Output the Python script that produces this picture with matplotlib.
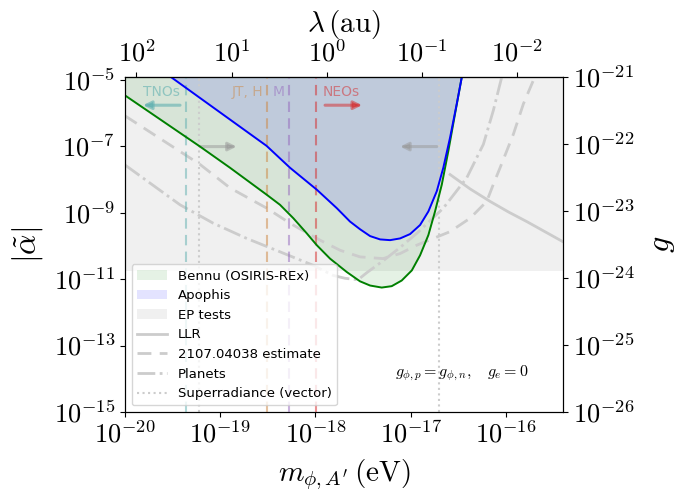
import numpy as np
import matplotlib
matplotlib.use("Agg")
import matplotlib.pyplot as plt
from matplotlib.ticker import NullLocator, FuncFormatter

plt.rcParams['mathtext.fontset'] = 'cm'
plt.rcParams['font.family'] = 'DejaVu Sans'

# curves, stored as log10 values
apophis_logm = [-19.70, -19.563, -18.513, -18.267, -17.986, -17.776, -17.637, -17.532,
                -17.426, -17.321, -17.216, -17.111, -17.006, -16.901, -16.814, -16.726,
                -16.657, -16.586, -16.516, -16.457, -16.43]
apophis_loga = [-4.53, -4.818, -6.985, -7.644, -8.304, -8.860, -9.264, -9.495,
                -9.702, -9.802, -9.824, -9.772, -9.641, -9.368, -8.960, -8.353,
                -7.644, -6.733, -5.720, -4.827, -4.30]

bennu_logm = [-20.0, -19.212, -18.897, -18.512, -18.372, -18.232, -18.091, -17.986,
              -17.847, -17.671, -17.532, -17.426, -17.304, -17.199, -17.094, -16.988,
              -16.901, -16.814, -16.744, -16.673, -16.604, -16.534, -16.463, -16.44]
bennu_loga = [-5.465, -7.006, -7.644, -8.456, -8.760, -9.164, -9.620, -9.976,
              -10.380, -10.784, -11.064, -11.191, -11.252, -11.210, -11.040, -10.736,
              -10.280, -9.672, -8.960, -8.152, -7.137, -6.024, -4.909, -4.45]

estimate_logm = [-20.0, -19.212, -18.897, -18.512, -18.267, -17.952, -17.742, -17.532,
                 -17.290, -17.111, -16.936, -16.586, -16.376, -16.201, -16.134, -16.061,
                 -15.921, -15.816, -15.711, -15.66]
estimate_loga = [-6.08, -7.544, -8.252, -8.860, -9.316, -9.824, -10.128, -10.328,
                 -10.380, -10.228, -9.976, -9.568, -9.164, -8.657, -8.161, -7.644,
                 -6.632, -5.720, -5.009, -4.60]

planets_logm = [-20.0, -19.422, -19.072, -18.722, -18.372, -18.022, -17.812, -17.689,
                -17.553, -17.461, -17.287, -17.111, -16.936, -16.657, -16.411, -16.236,
                -16.132, -16.043, -16.02]
planets_loga = [-7.56, -8.760, -9.316, -9.772, -10.176, -10.584, -10.888, -10.973,
                -11.018, -10.805, -10.441, -10.046, -9.620, -8.860, -7.948, -6.936,
                -5.921, -4.909, -4.54]

llr_logm = [-16.586, -16.376, -16.166, -15.970, -15.781, -15.40]
llr_loga = [-7.848, -8.280, -8.657, -8.980, -9.264, -9.872]

ep_loga = -10.74

# vertical markers (log10 mass)
tno_logm = -19.359
jth_logm = -18.505
mars_logm = -18.277
neo_logm = -17.997
superrad_logm = [-19.223, -16.700]

HBARC_EV_M = 1.97327e-7
AU_M = 1.495979e11

TNO_C = '#5fb0b0'
JTH_C = 'peru'
MARS_C = 'tab:purple'
NEO_C = 'tab:red'


def to_lambda(m):
    m = np.asarray(m, dtype=float)
    with np.errstate(divide='ignore'):
        return HBARC_EV_M / (m * AU_M)


def pow10(v, pos=None):
    if v <= 0:
        return ''
    return r'$10^{%d}$' % int(np.round(np.log10(v)))


fig = plt.figure(figsize=(6.85, 4.98), dpi=100)
ax = fig.add_axes([0.1825, 0.1727, 0.6394, 0.6727])
ax.set_xscale('log')
ax.set_yscale('log')
xmin, xmax = 1e-20, 10 ** -15.4
ymin, ymax = 1e-15, 10 ** -4.91
ax.set_xlim(xmin, xmax)
ax.set_ylim(ymin, ymax)

grey = '0.8'

# EP tests
ax.fill_between([xmin, xmax], 10 ** ep_loga, 1.0, color='0.94', lw=0, label='EP tests', zorder=0)

# Bennu
m_b = 10 ** np.array(bennu_logm)
a_b = 10 ** np.array(bennu_loga)
ax.fill_between(m_b, a_b, 1.0, color='green', alpha=0.1, lw=0, label='Bennu (OSIRIS-REx)', zorder=1)
ax.plot(m_b, a_b, color='green', lw=1.4, zorder=5)

# Apophis
m_a = 10 ** np.array(apophis_logm)
a_a = 10 ** np.array(apophis_loga)
ax.fill_between(m_a, a_a, 1.0, color='blue', alpha=0.11, lw=0, label='Apophis', zorder=1)
ax.plot(m_a, a_a, color='blue', lw=1.4, zorder=5)

# other bounds
ax.plot(10 ** np.array(llr_logm), 10 ** np.array(llr_loga), color=grey, lw=2, ls='-', label='LLR', zorder=2)
ax.plot(10 ** np.array(estimate_logm), 10 ** np.array(estimate_loga), color=grey, lw=2,
        ls=(0, (5, 3)), label='2107.04038 estimate', zorder=2)
ax.plot(10 ** np.array(planets_logm), 10 ** np.array(planets_loga), color=grey, lw=2,
        ls='-.', label='Planets', zorder=2)
for i, lm in enumerate(superrad_logm):
    ax.axvline(10 ** lm, color=grey, lw=1.5, ls=':',
               label='Superradiance (vector)' if i == 0 else None, zorder=2)

# solar system markers
for lm, c in [(tno_logm, TNO_C), (jth_logm, JTH_C),
              (mars_logm, MARS_C), (neo_logm, NEO_C)]:
    ax.axvline(10 ** lm, color=c, alpha=0.5, lw=1.5, ls=(0, (5, 3)), zorder=3)

txt_y = 10 ** -5.36
arr_y = 10 ** -5.76
ax.text(10 ** -19.622, txt_y, 'TNOs', color=TNO_C, alpha=0.6, fontsize=10, ha='center', va='center')
ax.text(10 ** -18.55, txt_y, 'JT, H', color=JTH_C, alpha=0.5, fontsize=10, ha='right', va='center')
ax.text(10 ** -18.391, txt_y, 'M', color=MARS_C, alpha=0.5, fontsize=10, ha='center', va='center')
ax.text(10 ** -17.728, txt_y, 'NEOs', color=NEO_C, alpha=0.5, fontsize=10, ha='center', va='center')

arrows = [(-19.422, -19.811, arr_y, TNO_C, 0.6),
          (-17.899, -17.510, arr_y, NEO_C, 0.5),
          (-19.212, -18.827, 10 ** -7.006, '0.6', 0.5),
          (-16.726, -17.111, 10 ** -7.006, '0.6', 0.5)]
for x0, x1, yy, c, al in arrows:
    ax.annotate('', xy=(10 ** x1, yy), xytext=(10 ** x0, yy),
                arrowprops=dict(arrowstyle='-|>', color=c, alpha=al, lw=2.2,
                                mutation_scale=12, shrinkA=0, shrinkB=0), zorder=4)

ax.text(0.77, 0.116, r'$g_{\phi,p} = g_{\phi,n},\quad g_e = 0$', transform=ax.transAxes,
        fontsize=11.5, ha='center', va='center')

handles, labels = ax.get_legend_handles_labels()
order = ['Bennu (OSIRIS-REx)', 'Apophis', 'EP tests', 'LLR', '2107.04038 estimate',
         'Planets', 'Superradiance (vector)']
hmap = dict(zip(labels, handles))
leg = ax.legend([hmap[k] for k in order], order, loc='lower left', fontsize=9.5,
                framealpha=0.8, handlelength=2.3)
leg.set_zorder(10)

fmt = FuncFormatter(pow10)
ax.set_xticks([1e-20, 1e-19, 1e-18, 1e-17, 1e-16])
ax.set_yticks([1e-5, 1e-7, 1e-9, 1e-11, 1e-13, 1e-15])
ax.xaxis.set_major_formatter(fmt)
ax.yaxis.set_major_formatter(fmt)
ax.xaxis.set_minor_locator(NullLocator())
ax.yaxis.set_minor_locator(NullLocator())
ax.tick_params(labelsize=19)
ax.set_xlabel(r"$m_{\phi,A'}\,(\mathrm{eV})$", fontsize=21, labelpad=6)
ax.set_ylabel(r'$|\tilde{\alpha}|$', fontsize=23, labelpad=6)

top = ax.secondary_xaxis('top', functions=(to_lambda, to_lambda))
top.set_xticks([1e2, 1e1, 1e0, 1e-1, 1e-2])
top.xaxis.set_major_formatter(fmt)
top.xaxis.set_minor_locator(NullLocator())
top.tick_params(labelsize=19)
top.set_xlabel(r'$\lambda\,(\mathrm{au})$', fontsize=21, labelpad=6)

ax2 = ax.twinx()
ax2.set_yscale('log')
ax2.set_ylim(1e-26, 1e-21)
ax2.set_yticks([1e-21, 1e-22, 1e-23, 1e-24, 1e-25, 1e-26])
ax2.yaxis.set_major_formatter(fmt)
ax2.yaxis.set_minor_locator(NullLocator())
ax2.tick_params(labelsize=19)
ax2.set_ylabel(r'$g$', fontsize=23, labelpad=8)

fig.savefig('out.png', dpi=100)
